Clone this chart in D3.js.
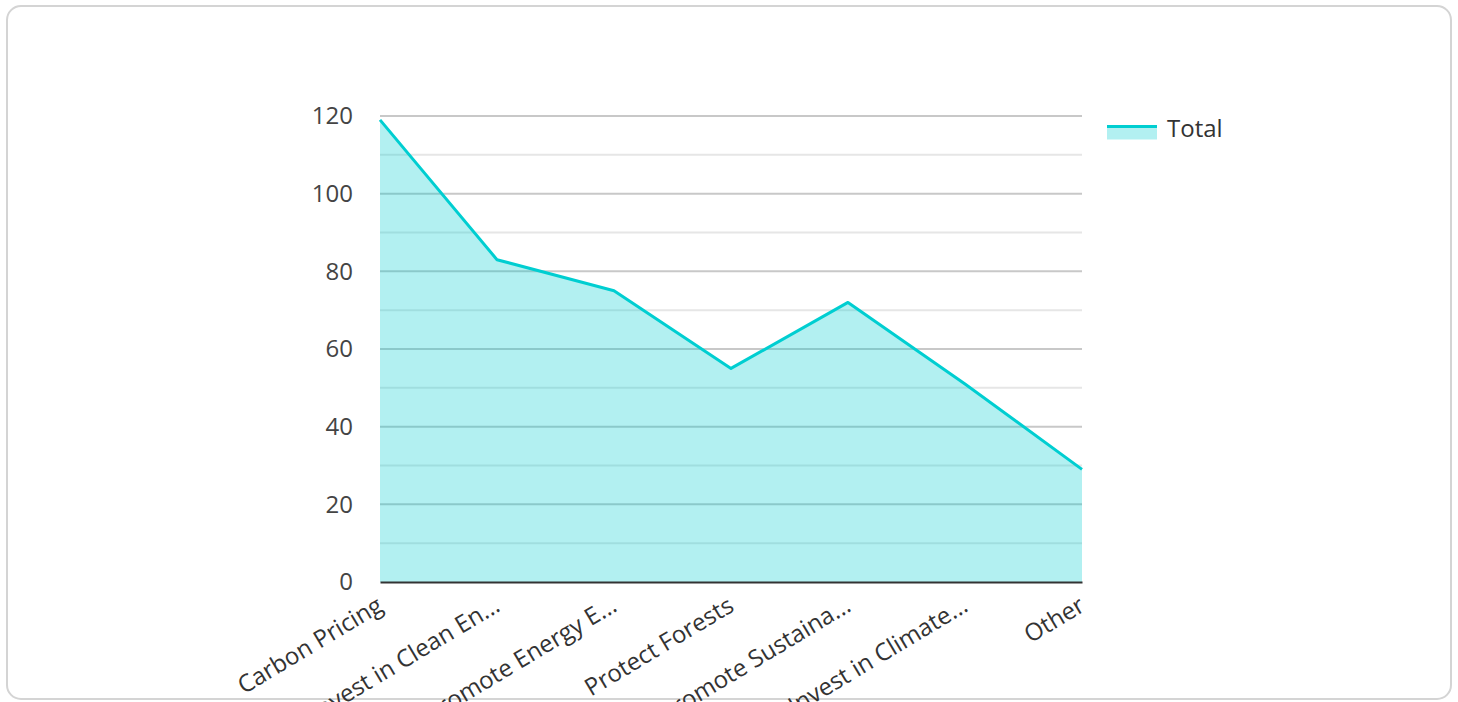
<!DOCTYPE html>
<html>
<head>
<meta charset="utf-8">
<script src="https://cdn.jsdelivr.net/npm/d3@7"></script>
<style>
  html, body { margin: 0; padding: 0; background: #fff; }
  svg { display: block; font-family: "Open Sans", "Noto Sans", sans-serif; }
</style>
</head>
<body>
<svg id="chart" width="1458" height="702"></svg>
<script>
const categories = ["Carbon Pricing", "Invest in Clean En...", "Promote Energy E...", "Protect Forests", "Promote Sustaina...", "Invest in Climate...", "Other"];
const totals = [119, 83, 75, 55, 72, 51, 29];
const yTicks = [0, 20, 40, 60, 80, 100, 120];
const yMinorTicks = [10, 30, 50, 70, 90, 110];
const seriesName = "Total";
const color = "#00CED1";

const svg = d3.select("#chart");

svg.append("rect")
  .attr("x", 7).attr("y", 6).attr("width", 1444).attr("height", 693)
  .attr("rx", 14).attr("ry", 14)
  .attr("fill", "#fff").attr("stroke", "#d4d4d4").attr("stroke-width", 2);

const plotLeft = 380, plotRight = 1082, plotTop = 116, plotBottom = 582;

const x = d3.scalePoint().domain(categories).range([plotLeft, plotRight]).padding(0);
const y = d3.scaleLinear().domain([0, 120]).range([plotBottom, plotTop]);

// minor gridlines
svg.append("g").selectAll("line").data(yMinorTicks).join("line")
  .attr("x1", plotLeft).attr("x2", plotRight)
  .attr("y1", d => y(d)).attr("y2", d => y(d))
  .attr("stroke", "#e6e6e6").attr("stroke-width", 2);

// major gridlines
svg.append("g").selectAll("line").data(yTicks.filter(d => d > 0)).join("line")
  .attr("x1", plotLeft).attr("x2", plotRight)
  .attr("y1", d => y(d)).attr("y2", d => y(d))
  .attr("stroke", "#c8c8c8").attr("stroke-width", 2);

const data = categories.map((c, i) => ({ c, v: totals[i] }));

svg.append("path").datum(data)
  .attr("d", d3.area().x(d => x(d.c)).y0(y(0)).y1(d => y(d.v)))
  .attr("fill", color).attr("fill-opacity", 0.3);

svg.append("path").datum(data)
  .attr("d", d3.line().x(d => x(d.c)).y(d => y(d.v)))
  .attr("fill", "none").attr("stroke", color).attr("stroke-width", 3)
  .attr("stroke-linejoin", "round");

// y axis labels
const yAxis = svg.append("g").attr("transform", `translate(${plotLeft},0)`)
  .call(d3.axisLeft(y).tickValues(yTicks).tickSize(0).tickPadding(27));
yAxis.select(".domain").remove();
yAxis.selectAll("text").attr("font-size", 24).attr("fill", "#444")
  .attr("font-family", "'Open Sans', 'Noto Sans', sans-serif");

// x axis
const xAxis = svg.append("g").attr("transform", `translate(0,${plotBottom})`)
  .call(d3.axisBottom(x).tickSize(0).tickPadding(0));
xAxis.select(".domain").attr("stroke", "#333").attr("stroke-width", 2);
xAxis.selectAll("text")
  .attr("font-size", 24).attr("fill", "#333")
  .attr("font-family", "'Open Sans', 'Noto Sans', sans-serif")
  .attr("text-anchor", "end")
  .attr("dy", null)
  .attr("y", 0)
  .attr("transform", "translate(4,28) rotate(-31)");

// legend
const lg = svg.append("g").attr("transform", "translate(1107,125)");
lg.append("rect").attr("x", 0).attr("y", 1.5).attr("width", 50).attr("height", 13)
  .attr("fill", color).attr("fill-opacity", 0.3);
lg.append("line").attr("x1", 0).attr("x2", 50).attr("y1", 1.5).attr("y2", 1.5)
  .attr("stroke", color).attr("stroke-width", 3);
lg.append("text").attr("x", 60).attr("y", 11.5).attr("font-size", 24).attr("fill", "#333")
  .text(seriesName);
</script>
</body>
</html>
